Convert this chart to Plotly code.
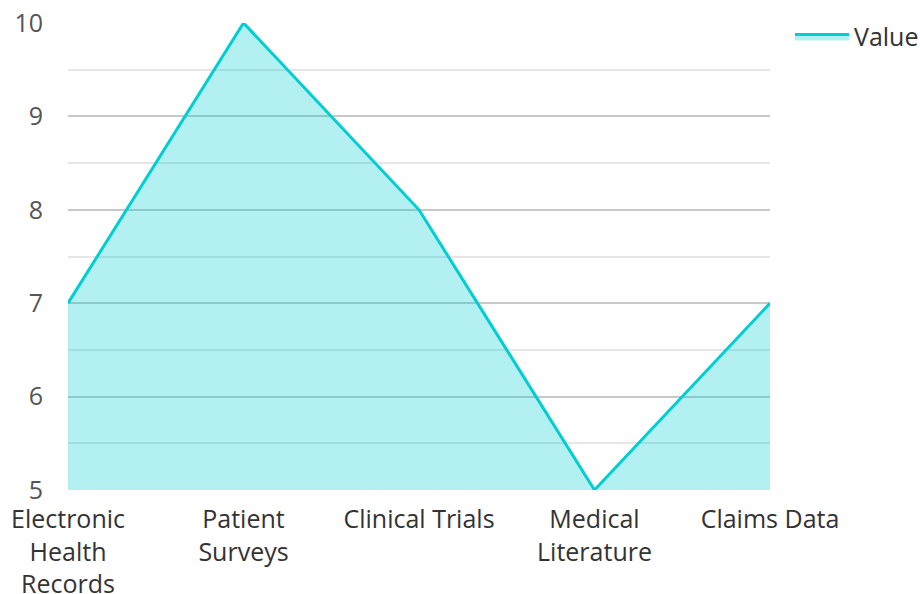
import plotly.graph_objects as go

categories = ["Electronic<br>Health<br>Records", "Patient<br>Surveys", "Clinical Trials", "Medical<br>Literature", "Claims Data"]
values = [7, 10, 8, 5, 7]
series_name = "Value"

fig = go.Figure()
fig.add_trace(go.Scatter(
    x=categories, y=values, name=series_name, mode="lines",
    line=dict(color="#00CED1", width=3),
    fill="tozeroy", fillcolor="rgba(0,206,209,0.3)",
    showlegend=True,
))

fig.update_layout(
    width=920, height=594,
    margin=dict(l=68, r=150, t=23, b=104, autoexpand=False),
    paper_bgcolor="white", plot_bgcolor="white",
    font=dict(family="Open Sans", size=25, color="#333333"),
    showlegend=True,
    legend=dict(x=1.0285, y=1.02, xanchor="left", yanchor="top", font=dict(size=25, color="#333333"),
                bgcolor="rgba(0,0,0,0)", itemwidth=54),
    xaxis=dict(type="category", range=[0, 4], showgrid=False, zeroline=False, showline=False,
               ticks="", ticklabelstandoff=12, automargin=False, ticklabeloverflow="allow",
               tickfont=dict(size=25, color="#333333")),
    yaxis=dict(range=[5, 10], dtick=1, showgrid=True, gridcolor="#c8c8c8", gridwidth=1.5,
               zeroline=False, showline=False, ticks="", ticklabelstandoff=24, automargin=False,
               ticklabeloverflow="allow",
               tickfont=dict(size=25, color="#555555"),
               minor=dict(dtick=0.5, showgrid=True, gridcolor="#e6e6e6", gridwidth=1.5)),
)

fig.write_html("out.html", config={"displayModeBar": False},
               post_script="document.body.style.margin='0px';")
